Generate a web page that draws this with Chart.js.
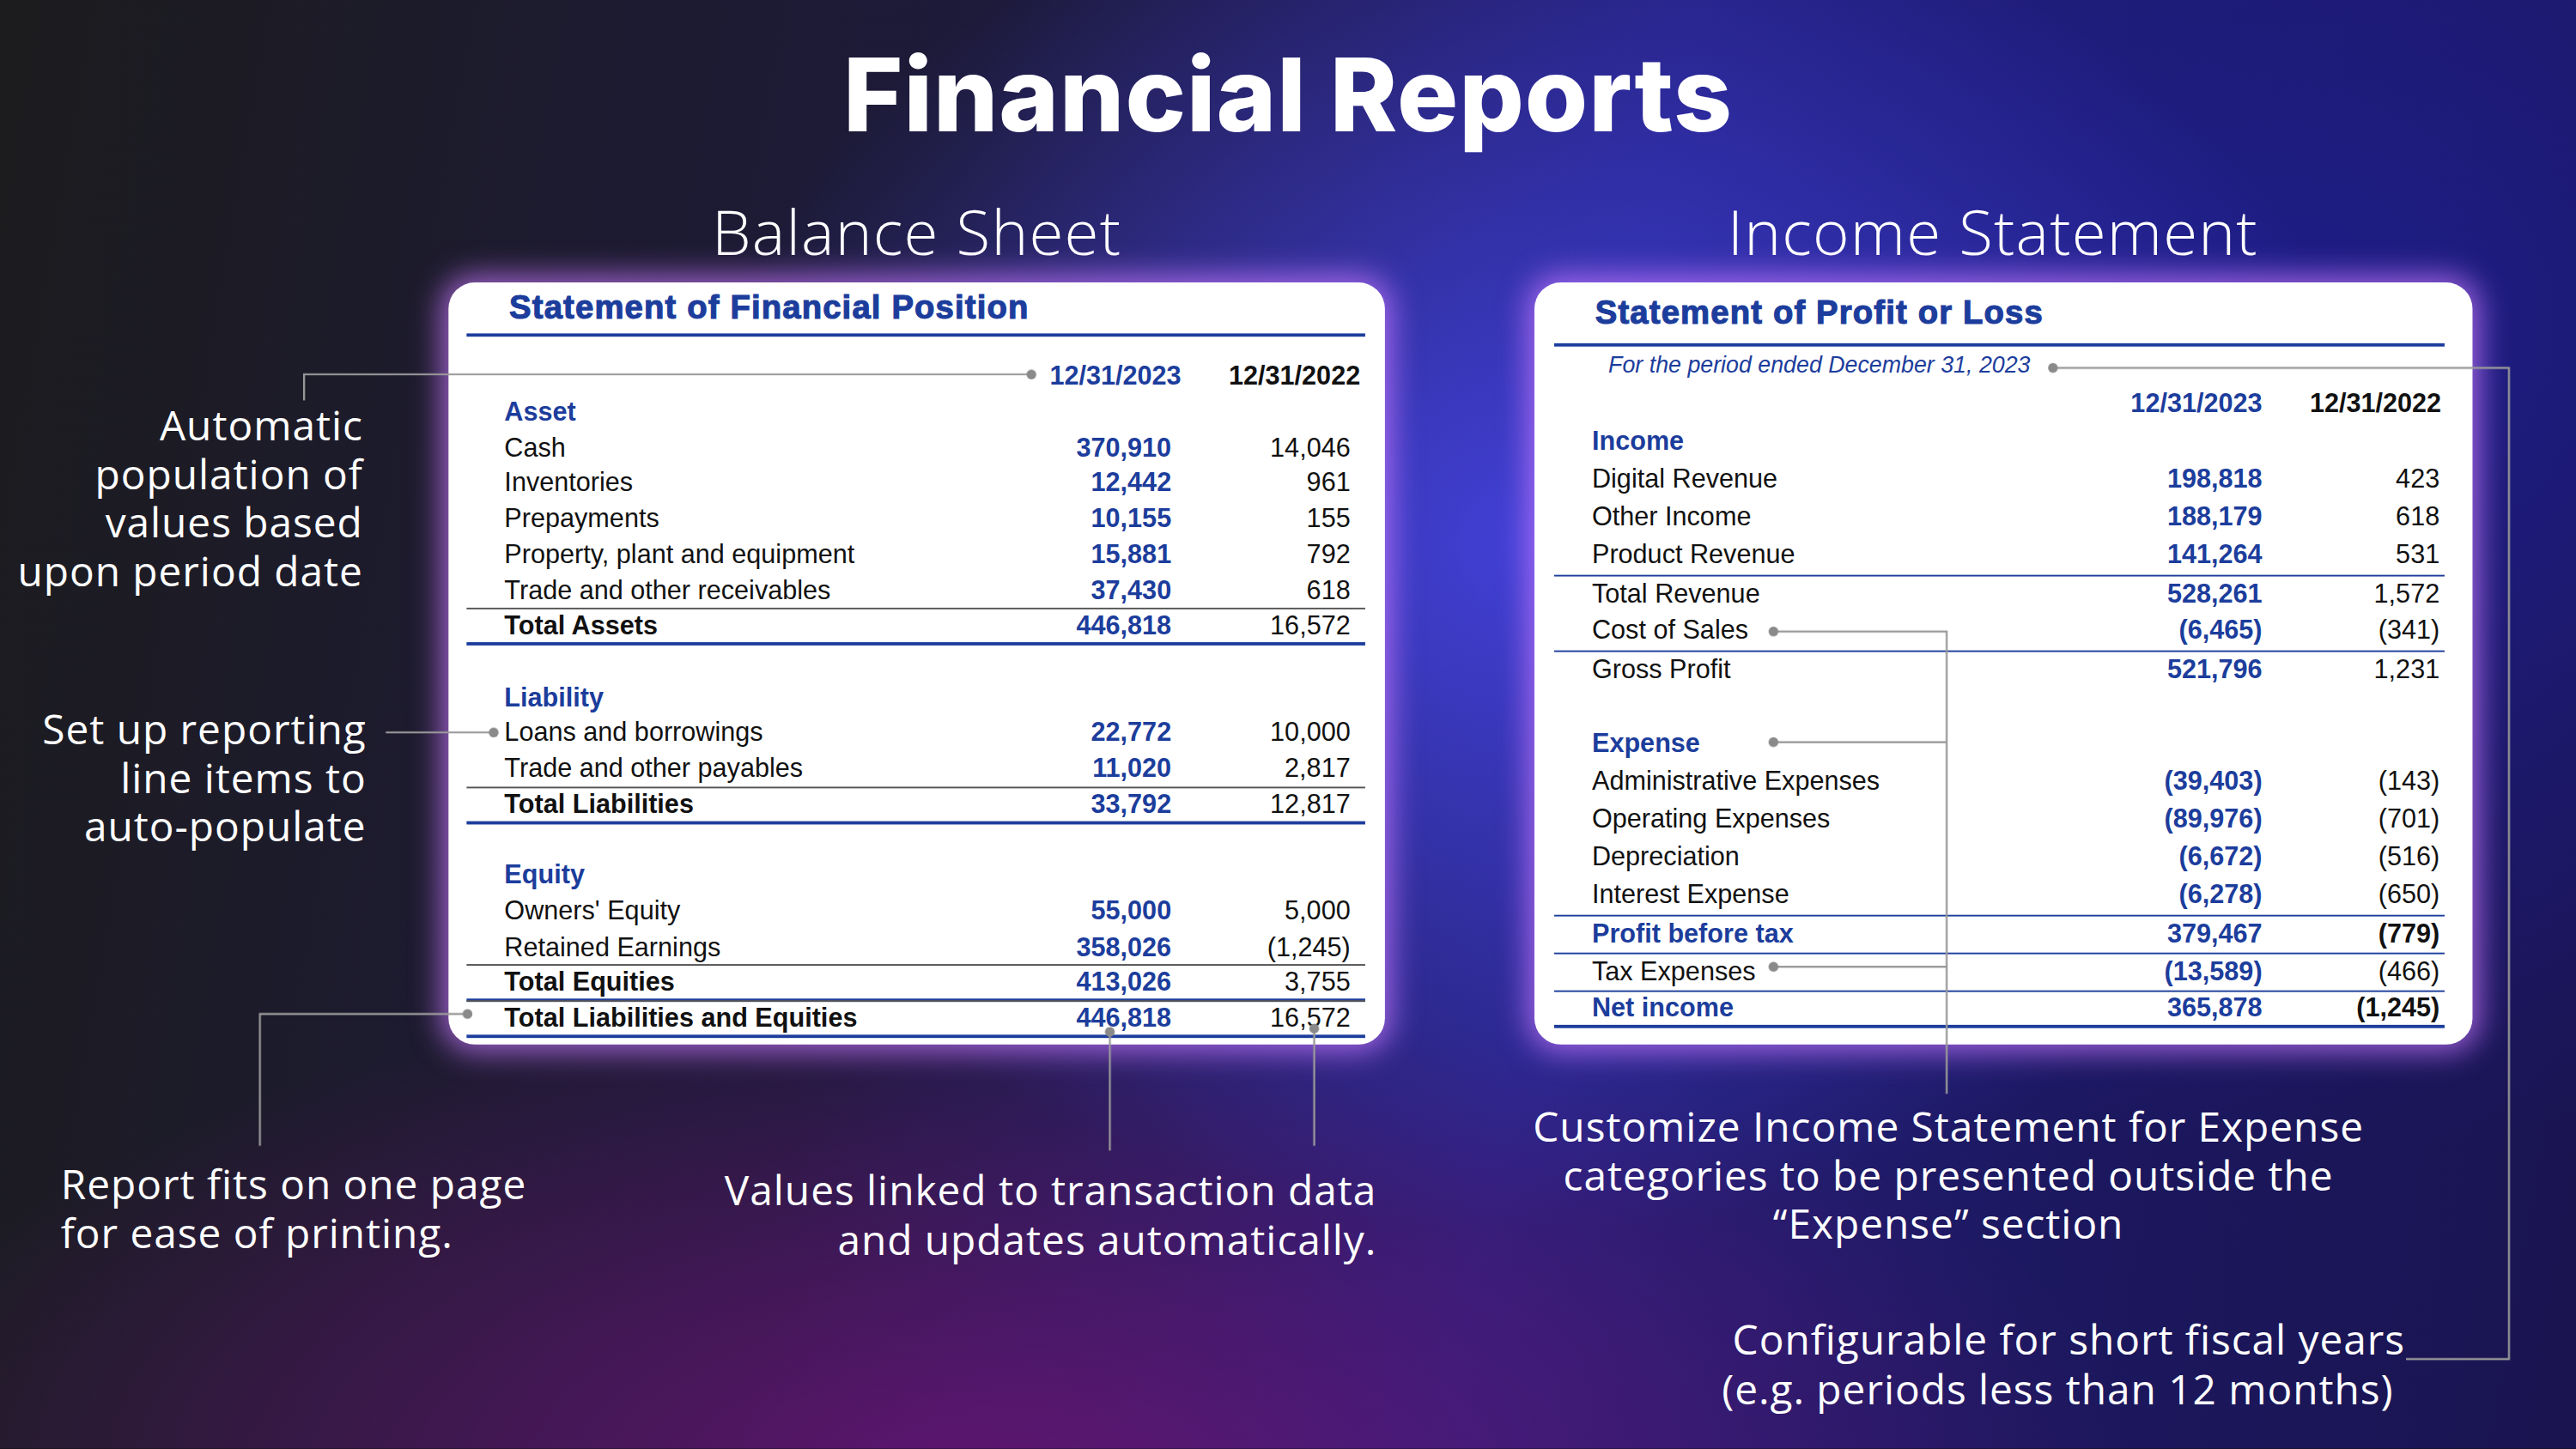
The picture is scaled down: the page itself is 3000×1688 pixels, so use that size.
<!DOCTYPE html>
<html><head><meta charset="utf-8">
<script src="https://cdn.jsdelivr.net/npm/chart.js@4.4.1/dist/chart.umd.min.js"></script>
<style>
html,body{margin:0;padding:0;width:3000px;height:1688px;overflow:hidden;background:#111}
#stage{position:absolute;left:0;top:0;width:1568px;height:882px;transform:scale(1.91327);transform-origin:0 0;
 background:
  radial-gradient(ellipse 520px 420px at 930px 330px, rgba(70,70,230,0.85), rgba(40,40,170,0) 100%),
  radial-gradient(ellipse 700px 300px at 600px 900px, rgba(110,20,120,0.8), rgba(60,10,80,0) 100%),
  radial-gradient(ellipse 600px 500px at 1400px 200px, rgba(30,30,140,0.9), rgba(20,20,90,0) 100%),
  linear-gradient(100deg,#1c1c1e 0%,#1d1a3a 35%,#25207a 60%,#1c1860 80%,#1a1450 100%);
 font-family:"Open Sans",sans-serif;color:#fff;overflow:hidden}
.t{position:absolute;white-space:nowrap}
.panel{position:absolute;background:#fff;border-radius:16px;box-shadow:0 0 18px 4px rgba(200,120,255,0.75)}
.row{position:absolute;font-family:"Liberation Sans",Arial,sans-serif;font-size:16px;color:#111;height:21px;line-height:21px}
.num{position:absolute;text-align:right}
.blue{color:#1c3d9c;font-weight:bold}
.ann{position:absolute;font-size:25px;line-height:29.5px;white-space:nowrap;font-weight:400;letter-spacing:0.5px}
#ov{position:absolute;left:0;top:0;width:1568px;height:882px;pointer-events:none}
</style></head><body>
<div id="stage">
 <div class="t" style="left:0;width:1568px;text-align:center;top:20px;font-size:62px;font-weight:800;font-family:Inter,'Open Sans',sans-serif;letter-spacing:0.5px">Financial Reports</div>
 <div class="t" style="left:358px;width:400px;text-align:center;top:114px;font-size:38px;font-weight:300;letter-spacing:0.6px">Balance Sheet</div>
 <div class="t" style="left:1013px;width:400px;text-align:center;top:114px;font-size:38px;font-weight:300;letter-spacing:0.6px">Income Statement</div>
 <div class="panel" id="bs" style="left:273px;top:172px;width:570px;height:464px"></div>
 <div class="panel" id="is" style="left:934px;top:172px;width:571px;height:464px"></div>
 <div class="ann" style="right:1347px;top:244px;text-align:right">Automatic<br>population of<br>values based<br>upon period date</div>
 <div class="ann" style="right:1345px;top:429px;text-align:right">Set up reporting<br>line items to<br>auto-populate</div>
 <div class="ann" style="left:37px;top:706px">Report fits on one page<br>for ease of printing.</div>
 <div class="ann" style="right:730px;top:710px;text-align:right">Values linked to transaction data<br>and updates automatically.</div>
 <div class="ann" style="left:886px;width:600px;top:671px;text-align:center">Customize Income Statement for Expense<br>categories to be presented outside the<br>“Expense” section</div>
 <div class="ann" style="right:104px;top:801px;text-align:right">Configurable for short fiscal years<br>(e.g. periods less than 12 months)&nbsp;</div>
 <canvas id="ov" width="1568" height="882"></canvas>
</div>
<script>
// Balance sheet
const bsLabels = ['Asset','Cash','Inventories','Prepayments','Property, plant and equipment','Trade and other receivables','Total Assets','',
 'Liability','Loans and borrowings','Trade and other payables','Total Liabilities','',
 'Equity',"Owners' Equity",'Retained Earnings','Total Equities','Total Liabilities and Equities'];
const bs2023 = ['','370,910','12,442','10,155','15,881','37,430','446,818','','','22,772','11,020','33,792','','','55,000','358,026','413,026','446,818'];
const bs2022 = ['','14,046','961','155','792','618','16,572','','','10,000','2,817','12,817','','','5,000','(1,245)','3,755','16,572'];
const bsKind = ['h','','','','','','t','','h','','','t','','h','','','t','t'];
// Income statement
const isLabels = ['Income','Digital Revenue','Other Income','Product Revenue','Total Revenue','Cost of Sales','Gross Profit','',
 'Expense','Administrative Expenses','Operating Expenses','Depreciation','Interest Expense','Profit before tax','Tax Expenses','Net income'];
const is2023 = ['','198,818','188,179','141,264','528,261','(6,465)','521,796','','','(39,403)','(89,976)','(6,672)','(6,278)','379,467','(13,589)','365,878'];
const is2022 = ['','423','618','531','1,572','(341)','1,231','','','(143)','(701)','(516)','(650)','(779)','(466)','(1,245)'];
const isKind = ['h','','','','l','','l','','h','','','','','p','l','n'];
const periods = ['12/31/2023','12/31/2022'];

function add(parent, html, style, cls){
  const d=document.createElement('div'); d.className=cls||'row'; d.style.cssText=style; d.innerHTML=html; parent.appendChild(d); return d;
}
const bs=document.getElementById('bs');
add(bs,'Statement of Financial Position','left:37px;top:5px;font-size:20px;font-weight:900;color:#1c3d9c;letter-spacing:0.6px;-webkit-text-stroke:0.6px #1c3d9c');
add(bs,'','left:11px;top:31px;width:547px;height:0;border-top:2px solid #1c3d9c');
add(bs,periods[0],'left:300px;width:146px;text-align:right;top:46px;color:#1c3d9c;font-weight:bold');
add(bs,periods[1],'left:400px;width:155px;text-align:right;top:46px;font-weight:bold');
bsLabels.forEach((lab,i)=>{
  if(!lab) return;
  const k=bsKind[i], y=68+i*21.7;
  const st='left:11px;width:547px;top:'+y+'px;'+(k==='t'?'border-top:1px solid #555;border-bottom:2px solid #1c3d9c;height:20px;line-height:20px;':'');
  const r=add(bs,'',st);
  add(r,lab,'left:23px;'+(k==='h'?'color:#1c3d9c;font-weight:bold;':'')+(k==='t'?'font-weight:bold;':''),'num');
  add(r,bs2023[i],'right:118px','num blue');
  add(r,bs2022[i],'right:9px','num');
});
const is=document.getElementById('is');
add(is,'Statement of Profit or Loss','left:37px;top:8px;font-size:20px;font-weight:900;color:#1c3d9c;letter-spacing:0.6px;-webkit-text-stroke:0.6px #1c3d9c');
add(is,'','left:12px;top:37px;width:542px;height:0;border-top:2px solid #1c3d9c');
add(is,'For the period ended December 31, 2023','left:45px;top:40px;font-size:14px;font-style:italic;color:#1c3d9c');
add(is,periods[0],'left:300px;width:143px;text-align:right;top:63px;color:#1c3d9c;font-weight:bold');
add(is,periods[1],'left:400px;width:152px;text-align:right;top:63px;font-weight:bold');
isLabels.forEach((lab,i)=>{
  if(!lab) return;
  const k=isKind[i], y=86+i*23;
  let st='left:12px;width:542px;top:'+y+'px;';
  if(k==='l'||k==='p'||k==='n') st+='border-top:1px solid #1c3d9c;';
  if(k==='n') st+='border-bottom:2px solid #1c3d9c;height:20px;line-height:20px;';
  const r=add(is,'',st);
  add(r,lab,'left:23px;'+(k==='h'||k==='p'||k==='n'?'color:#1c3d9c;font-weight:bold;':''),'num');
  add(r,is2023[i],'right:111px','num blue');
  add(r,is2022[i],'right:3px;'+(k==='p'||k==='n'?'font-weight:bold':''),'num');
});

// connector lines (annotation geometry in page units)
const connectors = [
 [[182,242],[182,226],[627,226]],
 [[232,446],[298,446]],
 [[155,700],[155,619],[282,619]],
 [[675,703],[675,630]],
 [[800,700],[800,628]],
 [[1187,668],[1187,384],[1081,384]],
 [[1187,452],[1081,452]],
 [[1187,590],[1081,590]],
 [[1468,831],[1531,831],[1531,222],[1252,222]]
];
const datasets = connectors.map(c=>({
  data:c.map(p=>({x:p[0],y:p[1]})), showLine:true, borderColor:'#9a9a9a', borderWidth:1.2,
  pointRadius:c.map((p,j)=>j===c.length-1?3:0), pointBackgroundColor:'#8a8a8a', pointBorderWidth:0
}));
new Chart(document.getElementById('ov'),{
  type:'scatter', data:{datasets},
  options:{responsive:false, animation:false, devicePixelRatio:2,
    layout:{padding:0},
    plugins:{legend:{display:false},tooltip:{enabled:false}},
    scales:{x:{type:'linear',min:0,max:1568,display:false},y:{type:'linear',min:0,max:882,reverse:true,display:false}}}
});
</script>
</body></html>
